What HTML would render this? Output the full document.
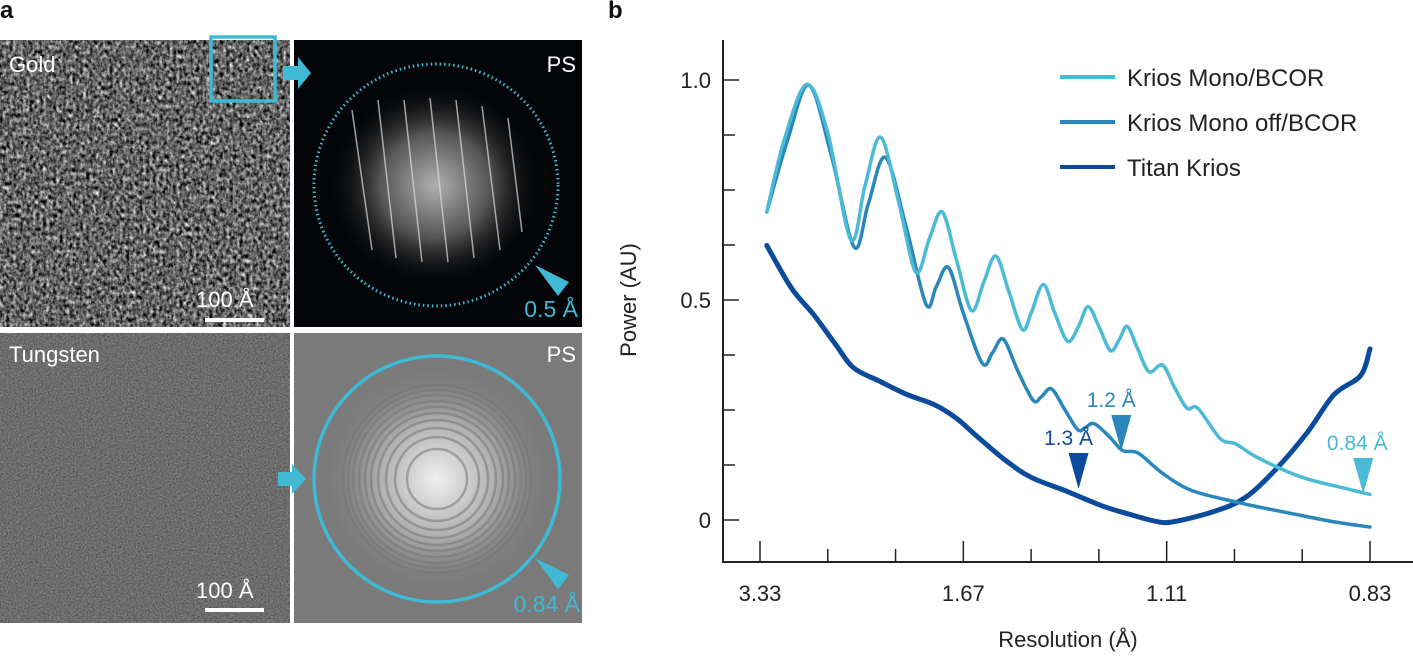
<!DOCTYPE html>
<html><head><meta charset="utf-8">
<style>
html,body{margin:0;padding:0;background:#fff;}
body{width:1413px;height:656px;overflow:hidden;font-family:"Liberation Sans",Arial,sans-serif;}
svg text{font-family:"Liberation Sans",Arial,sans-serif;}
</style></head>
<body>
<svg width="1413" height="656" viewBox="0 0 1413 656">
<defs>
<filter id="goldTex" x="0" y="0" width="100%" height="100%" color-interpolation-filters="sRGB">
<feTurbulence type="fractalNoise" baseFrequency="0.3 0.22" numOctaves="3" seed="3"/>
<feColorMatrix type="matrix" values="0.33 0.33 0.33 0 0  0.33 0.33 0.33 0 0  0.33 0.33 0.33 0 0  0 0 0 0 1"/>
<feComponentTransfer><feFuncR type="linear" slope="2.2" intercept="-0.7"/><feFuncG type="linear" slope="2.2" intercept="-0.7"/><feFuncB type="linear" slope="2.2" intercept="-0.7"/></feComponentTransfer>
</filter>
<filter id="tungTex" x="0" y="0" width="100%" height="100%" color-interpolation-filters="sRGB">
<feTurbulence type="fractalNoise" baseFrequency="0.6" numOctaves="2" seed="7"/>
<feColorMatrix type="matrix" values="0.33 0.33 0.33 0 0  0.33 0.33 0.33 0 0  0.33 0.33 0.33 0 0  0 0 0 0 1"/>
<feComponentTransfer><feFuncR type="linear" slope="0.6" intercept="0.13"/><feFuncG type="linear" slope="0.6" intercept="0.13"/><feFuncB type="linear" slope="0.6" intercept="0.13"/></feComponentTransfer>
</filter>
<radialGradient id="psGlow" cx="0.5" cy="0.5" r="0.5">
<stop offset="0" stop-color="#b0b0b0"/><stop offset="0.5" stop-color="#555"/><stop offset="1" stop-color="#000" stop-opacity="0"/>
</radialGradient>
<radialGradient id="ringGlow" cx="0.5" cy="0.5" r="0.5">
<stop offset="0" stop-color="#f0f0f0"/><stop offset="0.5" stop-color="#b0b0b0"/><stop offset="1" stop-color="#7a7a7a" stop-opacity="0"/>
</radialGradient>
<clipPath id="cpGold"><rect x="0" y="40" width="290" height="287"/></clipPath>
<clipPath id="cpTung"><rect x="0" y="333" width="290" height="290"/></clipPath>
</defs>

<text x="0" y="18" font-size="24" font-weight="bold" fill="#111">a</text>
<text x="608" y="18" font-size="24" font-weight="bold" fill="#111">b</text>

<g>
<rect x="0" y="40" width="290" height="287" fill="#555"/>
<rect x="0" y="40" width="290" height="287" filter="url(#goldTex)" clip-path="url(#cpGold)"/>
<text x="9" y="72" font-size="22" fill="#fff">Gold</text>
<text x="196" y="307" font-size="22" fill="#fff">100 Å</text>
<rect x="205" y="318" width="59" height="4" fill="#fff"/>
</g>

<g>
<rect x="294" y="40" width="288" height="287" fill="#030508"/>
<ellipse cx="435" cy="185" rx="110" ry="105" fill="url(#psGlow)"/>
<g stroke="#ddd" stroke-width="1.5" opacity="0.7">
<line x1="352" y1="110" x2="372" y2="250"/><line x1="378" y1="100" x2="396" y2="258"/><line x1="404" y1="100" x2="422" y2="262"/>
<line x1="430" y1="98" x2="448" y2="262"/><line x1="456" y1="100" x2="474" y2="258"/><line x1="482" y1="106" x2="500" y2="250"/><line x1="508" y1="118" x2="522" y2="232"/>
</g>
<ellipse cx="436" cy="185" rx="122" ry="121" fill="none" stroke="#3fb9d4" stroke-width="3" stroke-dasharray="1.5 3"/>
<text x="576" y="72" font-size="22" fill="#fff" text-anchor="end">PS</text>
<polygon points="535,265 569,282 558,296" fill="#3fb9d4"/>
<text x="578" y="317" font-size="23" fill="#3fb9d4" text-anchor="end">0.5 Å</text>
</g>

<g>
<rect x="0" y="333" width="290" height="290" fill="#6e6e6e"/>
<rect x="0" y="333" width="290" height="290" filter="url(#tungTex)" clip-path="url(#cpTung)"/>
<text x="9" y="362" font-size="22" fill="#fff">Tungsten</text>
<text x="196" y="598" font-size="22" fill="#fff">100 Å</text>
<rect x="205" y="608" width="59" height="4" fill="#fff"/>
</g>

<g>
<rect x="294" y="333" width="288" height="290" fill="#7a7a7a"/>
<circle cx="437" cy="479" r="115" fill="url(#ringGlow)"/>
<g fill="none" stroke="#777" stroke-width="2.5" opacity="0.55">
<circle cx="437" cy="479" r="30"/><circle cx="437" cy="479" r="42"/><circle cx="437" cy="479" r="51"/><circle cx="437" cy="479" r="59"/><circle cx="437" cy="479" r="66"/><circle cx="437" cy="479" r="72"/><circle cx="437" cy="479" r="78"/><circle cx="437" cy="479" r="84"/><circle cx="437" cy="479" r="89"/><circle cx="437" cy="479" r="94"/>
</g>
<circle cx="437" cy="479" r="123" fill="none" stroke="#3fb9d4" stroke-width="3.5"/>
<text x="576" y="362" font-size="22" fill="#fff" text-anchor="end">PS</text>
<polygon points="535,558 569,575 558,589" fill="#3fb9d4"/>
<text x="580" y="612" font-size="23" fill="#3fb9d4" text-anchor="end">0.84 Å</text>
</g>

<rect x="211" y="37" width="64" height="64" fill="none" stroke="#3fb9d4" stroke-width="3.5"/>
<polygon points="283,66 298,66 298,57 311,73 298,89 298,80 283,80" fill="#3fb9d4"/>
<polygon points="278,472 292,472 292,464 306,479 292,494 292,486 278,486" fill="#3fb9d4"/>

<g id="chart">
<text x="636" y="300" font-size="22" fill="#222" text-anchor="middle" transform="rotate(-90 636 300)">Power (AU)</text>
<text x="1068" y="647" font-size="22" fill="#222" text-anchor="middle">Resolution (Å)</text>
</g>
</svg>
<script>
const yTicks=[0,0.5,1.0];
const yTickLabels=["0","0.5","1.0"];
const xTicks=[0.3,0.4,0.5,0.6,0.7,0.8,0.9,1.0,1.1,1.2];
const xMajor=[0.3,0.6,0.9,1.2];
const xTickLabels=["3.33","1.67","1.11","0.83"];
const seriesNames=["Krios Mono/BCOR","Krios Mono off/BCOR","Titan Krios"];
const monoFreq=[0.31,0.335,0.369,0.40,0.434,0.455,0.478,0.505,0.530,0.55,0.569,0.59,0.612,0.63,0.648,0.667,0.687,0.70,0.718,0.735,0.754,0.77,0.784,0.80,0.817,0.83,0.842,0.857,0.874,0.894,0.912,0.930,0.946,0.979,1.002,1.035,1.10,1.166,1.2];
const monoPow=[0.70,0.86,0.99,0.88,0.637,0.76,0.87,0.72,0.563,0.64,0.70,0.59,0.476,0.54,0.60,0.52,0.433,0.47,0.535,0.47,0.406,0.44,0.485,0.44,0.385,0.41,0.44,0.39,0.337,0.352,0.30,0.254,0.254,0.185,0.173,0.141,0.097,0.071,0.058];
const offFreq=[0.31,0.34,0.372,0.405,0.439,0.46,0.485,0.515,0.545,0.56,0.578,0.60,0.628,0.643,0.659,0.68,0.703,0.715,0.73,0.75,0.769,0.78,0.793,0.815,0.835,0.858,0.894,0.937,1.002,1.041,1.10,1.146,1.2];
const offPow=[0.70,0.86,0.988,0.83,0.62,0.72,0.824,0.67,0.49,0.53,0.574,0.47,0.356,0.38,0.411,0.34,0.272,0.28,0.298,0.25,0.205,0.21,0.219,0.19,0.158,0.152,0.106,0.067,0.041,0.028,0.010,-0.004,-0.016];
const titanFreq=[0.31,0.346,0.379,0.412,0.438,0.477,0.517,0.556,0.589,0.621,0.661,0.70,0.753,0.805,0.845,0.884,0.91,0.969,1.015,1.061,1.107,1.147,1.186,1.2];
const titanPow=[0.624,0.528,0.467,0.398,0.346,0.315,0.285,0.263,0.232,0.189,0.137,0.097,0.065,0.032,0.013,-0.003,-0.004,0.019,0.05,0.115,0.198,0.285,0.328,0.389];
const markerFreq=[0.77,0.833,1.19];
const markerLabels=["1.3 Å","1.2 Å","0.84 Å"];

const NS="http://www.w3.org/2000/svg";
const g=document.getElementById('chart');
const colors=["#4bbad4","#2987bc","#0c4b9b"];
const X0=760,X1=1370,Y0=520,Y1=80;
function xs(f){return X0+(f-0.3)/(1.2-0.3)*(X1-X0);}
function ys(p){return Y0+(p-0)/(1-0)*(Y1-Y0);}
function mk(tag,attrs){const e=document.createElementNS(NS,tag);for(const k in attrs)e.setAttribute(k,attrs[k]);g.appendChild(e);return e;}

let ax=mk('line',{x1:723,y1:40,x2:723,y2:562,stroke:'#222','stroke-width':2});


let bx=mk('line',{x1:722,y1:562,x2:1413,y2:562,stroke:'#222','stroke-width':2});


for(let i=0;i<=8;i++){const v=i*0.125;const t=mk('line',{x1:723,y1:ys(v),x2:(i%4===0?739:735),y2:ys(v),stroke:'#222','stroke-width':1.5});

}
yTicks.forEach((v,i)=>{const t=mk('text',{x:711,y:ys(v)+8,'font-size':22,fill:'#222','text-anchor':'end'});t.textContent=yTickLabels[i];

});
xTicks.forEach(v=>{const major=xMajor.some(m=>Math.abs(m-v)<1e-6);const t=mk('line',{x1:xs(v),y1:562,x2:xs(v),y2:major?541:549,stroke:'#222','stroke-width':1.5});

});
xMajor.forEach((v,i)=>{const t=mk('text',{x:xs(v),y:601,'font-size':22,fill:'#222','text-anchor':'middle'});t.textContent=xTickLabels[i];

});

function path(fr,pw){let d='';for(let i=0;i<fr.length;i++){const x=xs(fr[i]),y=ys(pw[i]);
 if(i===0){d+='M'+x+','+y;}else{const x0=xs(fr[i-1]),y0=ys(pw[i-1]);const xp=i>1?xs(fr[i-2]):x0,yp=i>1?ys(pw[i-2]):y0;const xn=i<fr.length-1?xs(fr[i+1]):x,yn=i<fr.length-1?ys(pw[i+1]):y;
 const c1x=x0+(x-xp)/6,c1y=y0+(y-yp)/6,c2x=x-(xn-x0)/6,c2y=y-(yn-y0)/6;d+=' C'+c1x+','+c1y+' '+c2x+','+c2y+' '+x+','+y;}}return d;}
const names=['series-titan-krios','series-krios-mono-off','series-krios-mono'];
[[titanFreq,titanPow,2,5],[offFreq,offPow,1,3.5],[monoFreq,monoPow,0,3.5]].forEach((s,k)=>{
 const p=mk('path',{d:path(s[0],s[1]),fill:'none',stroke:colors[s[2]],'stroke-width':s[3],'stroke-linejoin':'round','stroke-linecap':'round'});
 
 
});
const mkCol=[colors[2],colors[1],colors[0]];
const mkTip=[489,451,494];
markerFreq.forEach((f,i)=>{const x=xs(f),tip=mkTip[i];
 const t=mk('polygon',{points:(x-10)+','+(tip-36)+' '+(x+10)+','+(tip-36)+' '+x+','+tip,fill:mkCol[i]});
 
 
 const l=mk('text',{x:x-(i===2?6:10),y:tip-44,'font-size':21,fill:mkCol[i],'text-anchor':'middle'});l.textContent=markerLabels[i];
 
 
});
seriesNames.forEach((n,i)=>{const y=77+i*45;
 const ln=mk('line',{x1:1060,y1:y,x2:1115,y2:y,stroke:colors[i],'stroke-width':4});
 
 
 const t=mk('text',{x:1127,y:y+9,'font-size':24,fill:'#222'});t.textContent=n;
 
 
});
</script>
</body></html>
